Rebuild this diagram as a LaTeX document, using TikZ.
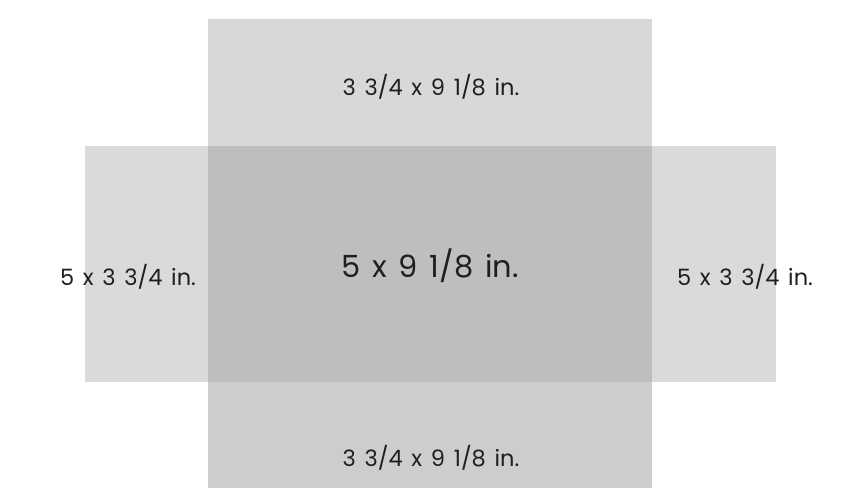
\documentclass[tikz,border=0pt]{standalone}
\usepackage{fontspec}
\setmainfont{Poppins}[WordSpace=1.45]
\usepackage{tikz}

\definecolor{flapgray}{HTML}{D9D8D9}
\definecolor{sidegray}{HTML}{DADADA}
\definecolor{basegray}{HTML}{BFBEBF}
\definecolor{lowgray}{HTML}{CECDCE}

\begin{document}
\begin{tikzpicture}[x=1pt,y=-1pt]

        \useasboundingbox (0,0) rectangle (868,488);

        % panels
        \fill[flapgray] (208,19)  rectangle (652,146);
        \fill[lowgray]  (208,382) rectangle (652,488);
        \fill[sidegray] (85,146)  rectangle (208,382);
        \fill[sidegray] (652,146) rectangle (776,382);
        \fill[basegray] (208,146) rectangle (652,382);

        \begin{scope}[every node/.style={text=black!88, inner sep=0pt, anchor=base, font=\fontsize{22.5}{26}\selectfont}]
          \node (top)    at (431,95)  {3 3/4 x 9 1/8 in.};
          \node (bottom) at (431,466) {3 3/4 x 9 1/8 in.};
          \node (left)   at (128,285) {5 x 3 3/4 in.};
          \node (right)  at (745,285) {5 x 3 3/4 in.};
          \node[font=\fontsize{30.5}{36}\selectfont] (base) at (430,277) {5 x 9 1/8 in.};
        \end{scope}

      \end{tikzpicture}
\end{document}
